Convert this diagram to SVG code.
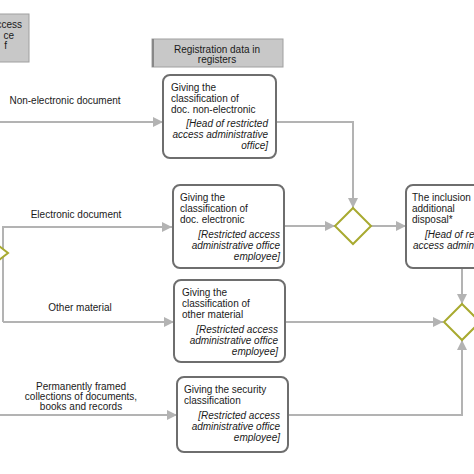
<svg xmlns="http://www.w3.org/2000/svg" width="474" height="474" viewBox="0 0 474 474">
<style>
text{font-family:"Liberation Sans",Arial,sans-serif;font-size:10px;fill:#1a1a1a}
.it{font-style:italic;text-anchor:end}
.c{text-anchor:middle}
.node{fill:#fff;stroke:#6e6e6e;stroke-width:2}
.gw{fill:#fff;stroke:#a8aa30;stroke-width:2}
.ln{fill:none;stroke:#b3b3b3;stroke-width:2}
.ann{fill:#c8c8c8;stroke:#a0a0a0;stroke-width:1}
</style>
<defs>
<marker id="ah" viewBox="0 0 10 10" refX="10" refY="5" markerWidth="5" markerHeight="5" orient="auto" markerUnits="strokeWidth">
<path d="M0,0 L10,5 L0,10 z" fill="#b3b3b3"/>
</marker>
</defs>
<g id="annotation-left">
<rect class="ann" x="-2" y="14" width="31" height="48"/>
<text x="22" y="28" text-anchor="end">ccess</text>
<text x="14" y="38.5" text-anchor="end">ce</text>
<text x="7" y="49" text-anchor="end">f</text>
</g>
<g id="annotation-registration">
<rect class="ann" x="152" y="39" width="131" height="28"/>
<line x1="153" y1="39" x2="153" y2="67" stroke="#888" stroke-width="2"/>
<text class="c" x="217" y="53">Registration data in</text>
<text class="c" x="217" y="63">registers</text>
</g>
<g id="connectors">
<polyline class="ln" points="0,122 163,122" marker-end="url(#ah)"/>
<polyline class="ln" points="3,322 3,227 172,227" marker-end="url(#ah)"/>
<polyline class="ln" points="3,322 174,322" marker-end="url(#ah)"/>
<polyline class="ln" points="0,415 177,415" marker-end="url(#ah)"/>
<polyline class="ln" points="276,122 353,122 353,208" marker-end="url(#ah)"/>
<polyline class="ln" points="284,226 335,226" marker-end="url(#ah)"/>
<polyline class="ln" points="371,226 406,226" marker-end="url(#ah)"/>
<polyline class="ln" points="462,268 462,304" marker-end="url(#ah)"/>
<polyline class="ln" points="285,322 443,322" marker-end="url(#ah)"/>
<polyline class="ln" points="288,415 462,415 462,340" marker-end="url(#ah)"/>
</g>
<g id="labels">
<text class="c" x="65" y="104">Non-electronic document</text>
<text class="c" x="76" y="218">Electronic document</text>
<text class="c" x="80" y="311">Other material</text>
<text class="c" x="81" y="390">Permanently framed</text>
<text class="c" x="81" y="400">collections of documents,</text>
<text class="c" x="81" y="410">books and records</text>
</g>
<g id="gateway-left">
<polygon class="gw" points="-5,243 8,253 -5,263 -18,253"/>
</g>
<g id="node-nonelectronic">
<rect class="node" x="163" y="75" width="113" height="83" rx="7"/>
<text x="171" y="91">Giving the</text>
<text x="171" y="102">classification of</text>
<text x="171" y="113">doc. non-electronic</text>
<text class="it" x="268" y="127">[Head of restricted</text>
<text class="it" x="268" y="138">access administrative</text>
<text class="it" x="268" y="149">office]</text>
</g>
<g id="node-electronic">
<rect class="node" x="173" y="185" width="111" height="83" rx="7"/>
<text x="180" y="201">Giving the</text>
<text x="180" y="212">classification of</text>
<text x="180" y="223">doc. electronic</text>
<text class="it" x="280" y="238">[Restricted access</text>
<text class="it" x="280" y="249">administrative office</text>
<text class="it" x="280" y="260">employee]</text>
</g>
<g id="node-other">
<rect class="node" x="174" y="280" width="111" height="82" rx="7"/>
<text x="182" y="296">Giving the</text>
<text x="182" y="307">classification of</text>
<text x="182" y="318">other material</text>
<text class="it" x="278" y="333">[Restricted access</text>
<text class="it" x="278" y="344">administrative office</text>
<text class="it" x="278" y="355">employee]</text>
</g>
<g id="node-security">
<rect class="node" x="177" y="377" width="111" height="75" rx="7"/>
<text x="184" y="393">Giving the security</text>
<text x="184" y="404">classification</text>
<text class="it" x="280" y="419">[Restricted access</text>
<text class="it" x="280" y="430">administrative office</text>
<text class="it" x="280" y="441">employee]</text>
</g>
<g id="gateway-1">
<polygon class="gw" points="353,208 371,226 353,244 335,226"/>
</g>
<g id="node-inclusion">
<rect class="node" x="406" y="185" width="120" height="83" rx="7"/>
<text x="412" y="201">The inclusion</text>
<text x="412" y="212">additional</text>
<text x="412" y="223">disposal*</text>
<text x="425" y="238" font-style="italic">[Head of restricted</text>
<text x="413" y="249" font-style="italic">access administrative</text>
</g>
<g id="gateway-2">
<polygon class="gw" points="462,304 480,322 462,340 444,322"/>
</g>
</svg>
